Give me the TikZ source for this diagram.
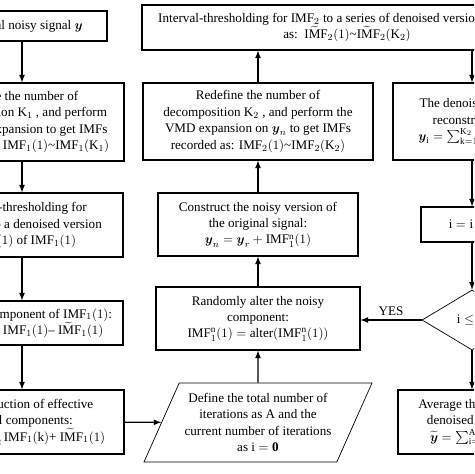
\documentclass[tikz,border=0pt]{standalone}
\usepackage{amsmath}
\usepackage{fontspec}
\setmainfont{Liberation Serif}
\usepackage{tikz}
\usetikzlibrary{shapes,arrows,positioning,calc}
\usetikzlibrary{shapes.geometric}

\newcommand{\px}{0.03cm}
\newcommand{\imf}[1]{\mathrm{IMF}_{#1}}
\newcommand{\imft}[1]{\mathrm{I}\widetilde{\mathrm{M}}\mathrm{F}_{#1}}

\tikzset{
	box/.style={draw, line width=0.9pt, align=center, inner sep=0pt, font=\fontsize{11.2}{14}\selectfont},
	thinbox/.style={box, line width=0.6pt},
	flow/.style={-latex, line width=1.2pt},
}

\begin{document}
\begin{tikzpicture}[x=0.03cm,y=-0.03cm]
		\useasboundingbox (0,0) rectangle (474,474);
		\clip (0,0) rectangle (474,474);
		\node[box, minimum width=170*\px, minimum height=30*\px] (orig) at (22,26) {Original noisy signal $\boldsymbol{y}$};
		\node[box, minimum width=204*\px, minimum height=78*\px] (dec1) at (22,122) {Define the number of\\decomposition $\mathrm{K}_1$ , and perform\\the VMD expansion to get IMFs\\recorded as: $\imf{1}(1)$\textasciitilde$\imf{1}(\mathrm{K}_1)$};
		\node[box, minimum width=202*\px, minimum height=64*\px] (thr1) at (22,225) {Interval-thresholding for\\$\imf{1}(1)$ to a denoised version\\$\imft{1}(1)$ of $\imf{1}(1)$};
		\node[box, minimum width=202*\px, minimum height=44*\px] (noise1) at (22,323) {The noisy component of $\imf{1}(1)$:\\$\imf{1}^{\mathrm{n}}(1) = \imf{1}(1)\text{--}\ \imft{1}(1)$};
		\node[box, minimum width=204*\px, minimum height=64*\px] (recon) at (22,422) {Reconstruction of effective\\signal components:\\$\boldsymbol{y}_r = \sum_{k=2}^{\mathrm{K}_1}\imf{1}(\mathrm{k})\text{+ }\imft{1}(1)$};
		\node[thinbox, trapezium, trapezium left angle=59, trapezium right angle=121, trapezium stretches body, minimum width=228*\px, minimum height=79*\px] (param) at (258,422.5) {Define the total number of\\iterations as A and the\\current number of iterations\\as $\mathrm{i} = \mathbf{0}$};
		\node[box, minimum width=204*\px, minimum height=63*\px] (alter) at (258,318.5) {Randomly alter the noisy\\component:\\$\imf{1}^{\mathrm{n}}(1) = \mathrm{alter}(\imf{1}^{\mathrm{n}}(1))$};
		\node[box, minimum width=200*\px, minimum height=63*\px] (constr) at (258,224.5) {Construct the noisy version of\\the original signal:\\$\boldsymbol{y}_n = \boldsymbol{y}_r + \imf{1}^{\mathrm{n}}(1)$};
		\node[box, minimum width=230*\px, minimum height=77*\px] (redef) at (258,121.5) {Redefine the number of\\decomposition $\mathrm{K}_2$ , and perform the\\VMD expansion on $\boldsymbol{y}_n$ to get IMFs\\recorded as: $\imf{2}(1)$\textasciitilde$\imf{2}(\mathrm{K}_2)$};
		\node[box, minimum width=410*\px, minimum height=45*\px] (topthr) at (347,27.5) {Interval-thresholding for $\imf{2}$\ to a series of denoised versions recorded\\as:\ \ $\imft{2}(1)$\textasciitilde$\imft{2}(\mathrm{K}_2)$};
		\node[box, minimum width=158*\px, minimum height=77*\px] (denois) at (472,121.5) {The denoised signal\\reconstruction:\\$\boldsymbol{y}_{\mathrm{i}} = \sum_{\mathrm{k}=1}^{\mathrm{K}_2}\imft{2}(\mathrm{k})$};
		\node[box, minimum width=102*\px, minimum height=35*\px] (incr) at (472,224.5) {$\mathrm{i} = \mathrm{i} + 1$};
		\node[thinbox, diamond, minimum width=100*\px, minimum height=60*\px] (cond) at (472,320) {$\mathrm{i} \le \mathrm{A}$};
		\node[box, minimum width=148*\px, minimum height=64*\px] (avg) at (472,422) {Average the A times\\denoised signals:\\$\widetilde{\boldsymbol{y}} = \sum_{\mathrm{i}=1}^{\mathrm{A}}\boldsymbol{y}_{\mathrm{i}}/\mathrm{A}$};
		\draw[flow] (orig) -- (dec1);
		\draw[flow] (dec1) -- (thr1);
		\draw[flow] (thr1) -- (noise1);
		\draw[flow] (noise1) -- (recon);
		\draw[flow] (recon) -- (param);
		\draw[flow] (param) -- (alter);
		\draw[flow] (alter) -- (constr);
		\draw[flow] (constr) -- (redef);
		\draw[flow] (redef.north) -- (redef.north |- topthr.south);
		\draw[flow] (denois.north |- topthr.south) -- (denois.north);
		\draw[flow] (denois) -- (incr);
		\draw[flow] (incr) -- (cond);
		\draw[flow] (cond.west) -- node[above, font=\fontsize{11.2}{12}\selectfont] {YES} (cond.west -| alter.east);
		\draw[flow] (cond) -- (avg);
	\end{tikzpicture}
\end{document}
